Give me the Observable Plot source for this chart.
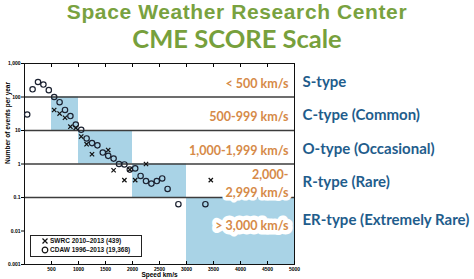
<!DOCTYPE html>
<html><head><meta charset="utf-8">
<script src="https://cdn.jsdelivr.net/npm/d3@7"></script>
<script src="https://cdn.jsdelivr.net/npm/@observablehq/plot@0.6"></script>
<style>
body{margin:0;background:#fff;width:474px;height:279px;overflow:hidden;position:relative}
#t1{height:21px;line-height:21px;text-align:center;font:bold 21px "Liberation Sans",Arial,sans-serif;letter-spacing:0.6px;color:#79a23f;white-space:nowrap}
#t2{height:37px;line-height:37px;text-align:center;font:bold 25.5px Lato,sans-serif;color:#77a03c;white-space:nowrap;position:relative;top:2px}
#chart svg{display:block}
#legend{position:absolute;left:30px;top:235px;width:110px;height:20px;border:1px solid #222;background:#fff;font:bold 6.5px "Liberation Sans",Arial,sans-serif;color:#111}
#legend div{position:absolute;left:19px;white-space:nowrap}
#legend svg{position:absolute;left:10px}
</style></head>
<body>
<div id="t1">Space Weather Research Center</div>
<div id="t2">CME SCORE Scale</div>
<div id="chart"></div>
<div id="legend"></div>
<script>
// CDAW 1996–2013 (circles)
const cdawSpeed = [50,150,250,350,450,550,650,750,850,950,1050,1150,1250,1350,1450,1550,1650,1750,1850,1950,2050,2150,2250,2350,2450,2550,2650,2850,3350];
const cdawRate  = [30,170,280,235,160,100,70,41,27,15,10.5,5.8,4.2,3.6,2.2,1.75,1.45,1.0,0.97,0.68,0.74,0.44,0.31,0.26,0.31,0.37,0.18,0.063,0.063];
// SWRC 2010–2013 (crosses)
const swrcSpeed = [550,650,750,850,950,1050,1150,1250,1550,1650,1850,1950,2050,2250,3450];
const swrcRate  = [41,32,24,13,12,6.6,3.9,1.95,2.6,0.65,0.33,0.68,0.33,1.0,0.33];
// CME SCORE tiers
const tierName  = ["S-type","C-type (Common)","O-type (Occasional)","R-type (Rare)","ER-type (Extremely Rare)"];
const tierRange = ["< 500 km/s","500-999 km/s","1,000-1,999 km/s","2,000-\n2,999 km/s","> 3,000 km/s"];
const tierMin   = [0,500,1000,2000,3000];
const tierMax   = [500,1000,2000,3000,5000];
const tierRateHi = [1000,100,10,1,0.1];
const tierRateLo = [100,10,1,0.1,0.001];
const tierShaded = [false,true,true,true,true];
// axes
const xTicks = [500,1000,1500,2000,2500,3000,3500,4000,4500,5000];
const yTicks = [0.001,0.01,0.1,1,10,100,1000];
const yTickLabels = ["0.001","0.01","0.1","1","10","100","1,000"];
const legendLabels = ["SWRC 2010–2013 (439)","CDAW 1996–2013 (19,368)"];

const cdaw = cdawSpeed.map((s,i)=>({speed:s, rate:cdawRate[i]}));
const swrc = swrcSpeed.map((s,i)=>({speed:s, rate:swrcRate[i]}));
const tiers = tierName.map((n,i)=>({name:n, range:tierRange[i], min:tierMin[i], max:tierMax[i], hi:tierRateHi[i], lo:tierRateLo[i], shaded:tierShaded[i], mid:Math.sqrt(tierRateHi[i]*tierRateLo[i])}));
const first4 = tiers.slice(0,4), last = tiers.slice(4);
const yLab = new Map(yTicks.map((v,i)=>[v,yTickLabels[i]]));
const xMax = d3.max(tierMax);

const orange = "#d68a48", blue = "#1f5d8c";
const lab = {fontFamily:"Lato, sans-serif", fontWeight:"bold"};

const plot = Plot.plot({
  width:474, height:221,
  marginTop:5, marginBottom:15, marginLeft:24, marginRight:180,
  style:{fontFamily:"'Liberation Sans', Arial, sans-serif", background:"#fff", overflow:"visible"},
  x:{domain:[0,xMax]},
  y:{type:"log", domain:[d3.min(tierRateLo), d3.max(tierRateHi)]},
  marks:[
    Plot.rect(tiers.filter(d=>d.shaded), {x1:"min", x2:"max", y1:"lo", y2:"hi", fill:"#a9d3e6"}),
    Plot.ruleY(tierRateLo.slice(0,4), {stroke:"#3c3c3c", strokeWidth:1.4}),
    Plot.frame({stroke:"#111", strokeWidth:1}),
    Plot.dot(cdaw, {x:"speed", y:"rate", r:2.7, stroke:"#1b2130", strokeWidth:1.2, fill:"none"}),
    Plot.dot(swrc, {x:"speed", y:"rate", symbol:"times", r:2.1, stroke:"#111", strokeWidth:1.2}),
    Plot.text(first4, {x:()=>xMax, y:"mid", text:"range", textAnchor:"end", dx:-6, dy:1.5, fill:orange, stroke:"#fff", strokeWidth:7, fontSize:12.5, lineHeight:1.45, ...lab}),
    Plot.text(last, {x:()=>xMax, y:"mid", text:"range", textAnchor:"end", dx:-6, dy:-5, fill:orange, stroke:"#fff", strokeWidth:9, fontSize:12.5, ...lab}),
    Plot.text(first4, {x:()=>xMax, y:"mid", text:"name", textAnchor:"start", dx:8, dy:1.5, fill:blue, fontSize:15, ...lab}),
    Plot.text(last, {x:()=>xMax, y:"mid", text:"name", textAnchor:"start", dx:8, dy:-11, fill:blue, fontSize:15, ...lab}),
    Plot.axisY(yTicks, {anchor:"left", tickSize:3, tickPadding:1, tickFormat:d=>yLab.get(d), fontSize:5, fontWeight:"bold", label:null}),
    Plot.axisX(xTicks, {anchor:"bottom", tickSize:0, tickPadding:3, tickFormat:d=>String(d), fontSize:5, fontWeight:"bold", label:null}),
    Plot.axisX(xTicks, {anchor:"bottom", tickSize:-3, tickFormat:()=>"", label:null}),
    Plot.axisX(xTicks, {anchor:"top", tickSize:-3, tickFormat:()=>"", label:null}),
    Plot.text(["Number of events per year"], {frameAnchor:"left", rotate:-90, dx:-17, fontSize:6.5, fontWeight:"bold"}),
    Plot.text(["Speed km/s"], {frameAnchor:"bottom", dy:12, fontSize:6.5, fontWeight:"bold"})
  ]
});
document.getElementById("chart").appendChild(plot);

const lg = document.getElementById("legend");
lg.innerHTML =
  `<svg width="8" height="8" style="top:1px"><path d="M1.5,1.5L6.5,6.5M6.5,1.5L1.5,6.5" stroke="#111" stroke-width="1.2"/></svg>`+
  `<div style="top:1px">${legendLabels[0]}</div>`+
  `<svg width="8" height="8" style="top:10px"><circle cx="4" cy="4" r="2.8" fill="none" stroke="#111" stroke-width="1.2"/></svg>`+
  `<div style="top:10px">${legendLabels[1]}</div>`;
</script>
</body></html>
